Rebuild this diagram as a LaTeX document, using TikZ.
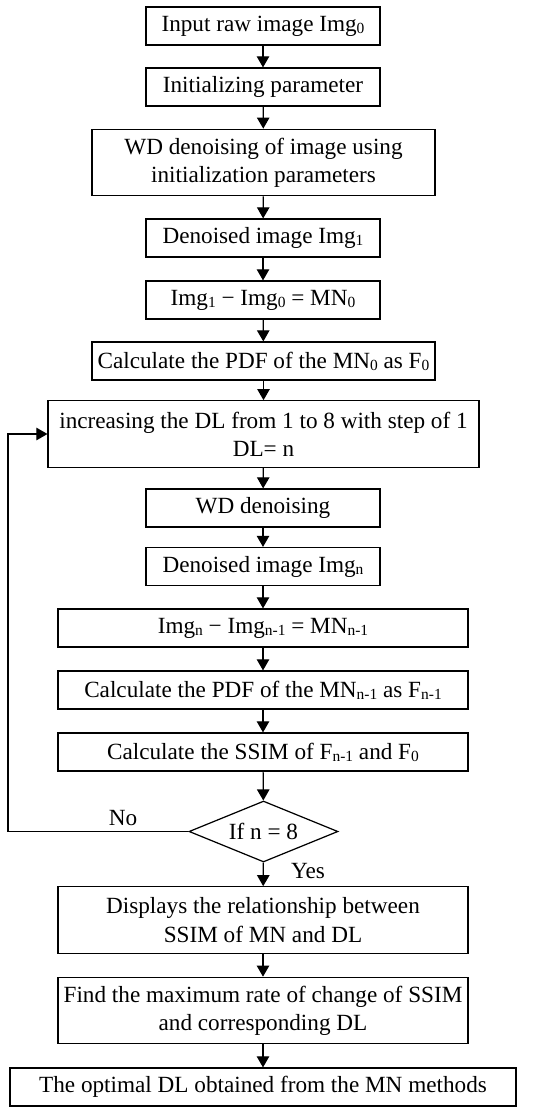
\documentclass[tikz,border=0pt]{standalone}
\usepackage{xcolor}
\usepackage{fontspec}
\setmainfont{Liberation Serif}
\usepackage{tikz}
\usetikzlibrary{arrows,shapes.geometric}

\newcommand{\lsub}[1]{\raisebox{-0.2ex}{\fontsize{8.8}{9}\selectfont #1}}

\tikzset{
 stepbox/.style={draw, line width=0.7pt, minimum width=#1, minimum height=0.76cm, inner sep=0pt, align=center},
 stepbox/.default=4.68cm,
 tallbox/.style={stepbox=#1, minimum height=1.33cm},
 checkbox/.style={draw, diamond, line width=0.7pt, minimum width=2.98cm, minimum height=1.22cm, inner sep=0pt, aspect=2.44},
 flow/.style={-triangle 60, line width=0.7pt}
}

\begin{document}
\begin{tikzpicture}[x=0.02cm, y=-0.02cm, font=\fontsize{13.2}{16}\selectfont]
 \useasboundingbox (0,0) rectangle (550,1112);

 \node [stepbox] (input) at (263, 26) {Input raw image Img\lsub{0}};
 \node [stepbox] (init) at (263, 87) {Initializing parameter};
 \node [tallbox=6.86cm] (wdinit) at (263.5, 162.5) {WD denoising of image using\\initialization parameters};
 \node [stepbox] (den1) at (263, 238) {Denoised image Img\lsub{1}};
 \node [stepbox] (diff0) at (263, 300) {Img\lsub{1} − Img\lsub{0} = MN\lsub{0}};
 \node [stepbox=6.86cm] (pdf0) at (263.5, 361) {Calculate the PDF of the MN\lsub{0} as F\lsub{0}};
 \node [tallbox=8.62cm] (incr) at (263.5, 434) {increasing the DL from 1 to 8 with step of 1\\DL= n};
 \node [stepbox] (wd) at (263, 508) {WD denoising};
 \node [stepbox] (denn) at (263, 566.5) {Denoised image Img\lsub{n}};
 \node [stepbox=8.2cm] (diffn) at (263, 628) {Img\lsub{n} − Img\lsub{n-1} = MN\lsub{n-1}};
 \node [stepbox=8.2cm] (pdfn) at (263, 690) {Calculate the PDF of the MN\lsub{n-1} as F\lsub{n-1}};
 \node [stepbox=8.2cm] (ssim) at (263, 752) {Calculate the SSIM of F\lsub{n-1} and F\lsub{0}};
 \node [checkbox] (chk) at (263.5, 831.5) {If n = 8};
 \node [tallbox=8.2cm] (rel) at (263, 920) {Displays the relationship between\\SSIM of MN and DL};
 \node [tallbox=8.2cm] (rate) at (263, 1010.5) {Find the maximum rate of change of SSIM\\and corresponding DL};
 \node [stepbox=10.12cm] (optdl) at (263, 1087) {The optimal DL obtained from the MN methods};

 \draw [flow] (input) -- (init);
 \draw [flow] (init) -- (wdinit);
 \draw [flow] (wdinit) -- (den1);
 \draw [flow] (den1) -- (diff0);
 \draw [flow] (diff0) -- (pdf0);
 \draw [flow] (pdf0) -- (incr);
 \draw [flow] (incr) -- (wd);
 \draw [flow] (wd) -- (denn);
 \draw [flow] (denn) -- (diffn);
 \draw [flow] (diffn) -- (pdfn);
 \draw [flow] (pdfn) -- (ssim);
 \draw [flow] (ssim) -- (chk);
 \draw [flow] (chk) -- (rel);
 \node (yes) at (308, 871) {Yes};
 \draw [flow] (rel) -- (rate);
 \draw [flow] (rate) -- (optdl);

 % loop back
 \coordinate (back) at (8, 831.5);
 \draw [flow] (chk.west) -- (back) |- (incr.west);
 \node (no) at (123, 818) {No};
\end{tikzpicture}
\end{document}
